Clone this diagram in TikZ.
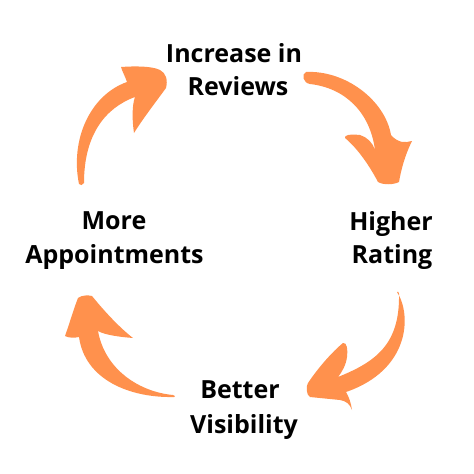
\documentclass[tikz,border=0pt]{standalone}
\usepackage{fontspec}
\setmainfont{Open Sans}
\definecolor{arrorange}{HTML}{FF914D}
\begin{document}
\begin{tikzpicture}[x=1pt,y=-1pt,
  lbl/.style={anchor=base,inner sep=0pt,font=\fontsize{25}{33}\selectfont\bfseries,text=black},
  arr/.style={fill=arrorange,draw=none}]
\useasboundingbox[fill=white] (0,0) rectangle (474,474);
% labels
\node[lbl] (rev1) at (234,62) {Increase in};
\node[lbl] (rev2) at (238,95) {Reviews};
\node[lbl] (hig1) at (391,230) {Higher};
\node[lbl] (hig2) at (392,263) {Rating};
\node[lbl] (vis1) at (240,398) {Better};
\node[lbl] (vis2) at (244,433) {Visibility};
\node[lbl] (app1) at (114,229) {More};
\node[lbl] (app2) at (114.5,263) {Appointments};
% top-right arrow
\fill[arr] (306,72) .. controls (345,70) and (385,100) .. (391,135)
  .. controls (398,143) and (405,143) .. (412,141)
  .. controls (405,155) and (401,170) .. (399,182)
  .. controls (393,185) and (383,185) .. (378,182)
  .. controls (368,163) and (356,147) .. (345,138)
  .. controls (344,135) and (350,134) .. (360,135)
  .. controls (367,137) and (373,143) .. (375,150)
  .. controls (370,112) and (345,88) .. (310,84)
  .. controls (303,83) and (301,74) .. (306,72) -- cycle;
% bottom-right arrow
\fill[arr] (397,292) .. controls (412,315) and (410,370) .. (346,392)
  .. controls (349,397) and (351,403) .. (352,410)
  .. controls (350,404) and (346,401) .. (340,400)
  -- (310,397)
  .. controls (306,395) and (306,386) .. (308,383)
  .. controls (318,368) and (332,352) .. (343,343)
  .. controls (347,342) and (348,350) .. (347,357)
  .. controls (346,365) and (342,372) .. (338,377)
  .. controls (375,362) and (400,345) .. (399,294)
  .. controls (399,292) and (398,291) .. (397,292) -- cycle;
% bottom-left arrow
\fill[arr] (174,397) .. controls (130,398) and (85,380) .. (79,337)
  .. controls (75,338) and (68,338) .. (65,336)
  .. controls (70,322) and (74,308) .. (78,298)
  .. controls (82,295) and (88,295) .. (92,296)
  .. controls (105,312) and (120,328) .. (133,338)
  .. controls (120,337) and (105,335) .. (98,331)
  .. controls (105,370) and (140,392) .. (173,395)
  .. controls (175,395) and (176,397) .. (174,397) -- cycle;
% top-left arrow
\fill[arr] (79,184) .. controls (70,140) and (90,95) .. (127,82)
  .. controls (125,76) and (122,71) .. (121,67)
  .. controls (135,66) and (152,66) .. (160,70)
  .. controls (166,73) and (168,80) .. (166,88)
  .. controls (155,103) and (142,120) .. (134,133)
  .. controls (132,120) and (132,105) .. (135,97)
  .. controls (105,108) and (84,135) .. (84,183)
  .. controls (83,185) and (80,186) .. (79,184) -- cycle;
\end{tikzpicture}
\end{document}
